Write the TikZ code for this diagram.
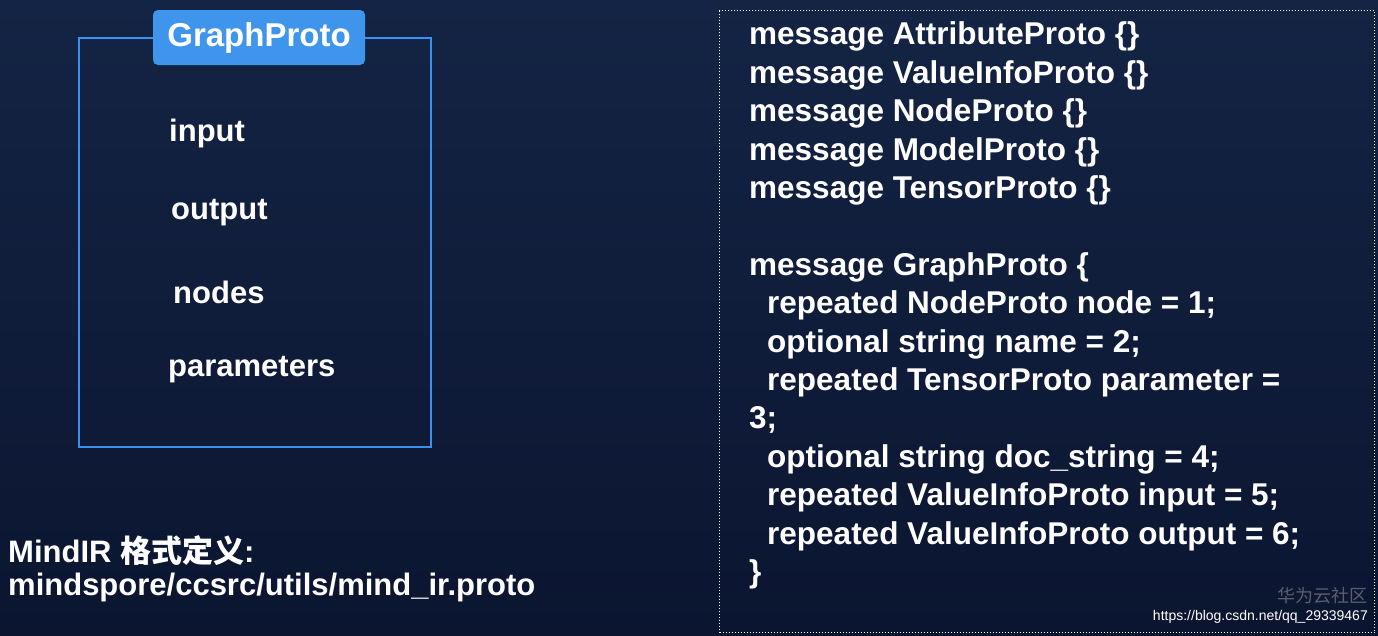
\documentclass[tikz,border=0pt]{standalone}
\usepackage{fontspec}
\setmainfont{Liberation Sans}
\newfontfamily\cjk{Noto Sans CJK SC}
\definecolor{bgtop}{HTML}{142444}
\definecolor{bgbot}{HTML}{0B1530}
\definecolor{bluebox}{HTML}{3D8FF0}
\definecolor{titlefill}{HTML}{3F95EC}
\begin{document}
\begin{tikzpicture}[x=1pt,y=-1pt,
  txt/.style={anchor=west,text=white,font=\fontsize{31.5}{31.5}\selectfont\bfseries,inner sep=0pt},
  item/.style={anchor=west,text=white,font=\fontsize{31}{31}\selectfont\bfseries,inner sep=0pt}]
\shade[top color=bgtop,bottom color=bgbot] (0,0) rectangle (1378,635);
\useasboundingbox (0,0) rectangle (1378,635);
\node[draw=bluebox,line width=1.5pt,minimum width=352,minimum height=409,anchor=north west,inner sep=0pt] (box) at (78,37) {};
\node[fill=titlefill,rounded corners=5pt,minimum width=212,minimum height=55,text=white,font=\fontsize{33}{33}\selectfont\bfseries,inner sep=0pt] (title) at (259,37.5) {GraphProto};
\node[item] (i1) at (169,133) {input};
\node[item] (i2) at (171,213) {output};
\node[item] (i3) at (173,292) {nodes};
\node[item] (i4) at (168,370) {parameters};
\node[item] (b1) at (8,551) {MindIR {\cjk 格式定义}:};
\node[item] (b2) at (8,587) {mindspore/ccsrc/utils/mind\_ir.proto};
\node[draw=white!70,dotted,line width=1pt,minimum width=655,minimum height=622,anchor=north west,inner sep=0pt] (code) at (719,10) {};
\foreach \y/\x/\t in {36/749/{message AttributeProto \{\}},75/749/{message ValueInfoProto \{\}},113/749/{message NodeProto \{\}},152/749/{message ModelProto \{\}},190/749/{message TensorProto \{\}},267/749/{message GraphProto \{},305/767/{repeated NodeProto node = 1;},344/767/{optional string name = 2;},382/767/{repeated TensorProto parameter =},420/749/{3;},459/767/{optional string doc\_string = 4;},497/767/{repeated ValueInfoProto input = 5;},536/767/{repeated ValueInfoProto output = 6;},574/749/{\}}}
  \node[txt] (c\y) at (\x,\y) {\t};
\node[anchor=east,text=white!60!gray,opacity=0.4,font=\fontsize{18}{18}\selectfont\cjk,inner sep=0pt] (wm1) at (1368,596) {华为云社区};
\node[anchor=east,text=white!85,font=\fontsize{14}{14}\selectfont,inner sep=0pt] (wm2) at (1368,617) {https://blog.csdn.net/qq\_29339467};
\end{tikzpicture}
\end{document}
